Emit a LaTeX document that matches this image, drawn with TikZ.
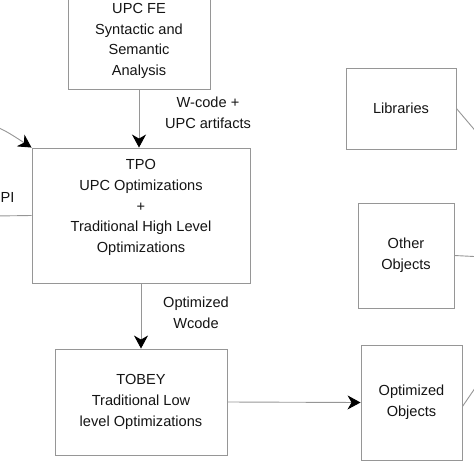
\documentclass[tikz,border=0pt]{standalone}
\usepackage{fontspec}
\setmainfont{Liberation Sans}
\usetikzlibrary{arrows.meta}
\definecolor{linegray}{RGB}{150,150,150}
\definecolor{txtgray}{RGB}{20,20,20}
\tikzset{
  box/.style={draw=linegray, line width=0.9pt, inner sep=0pt, text=txtgray, align=center},
  txt/.style={inner sep=0pt, text=txtgray, align=center},
  conn/.style={draw=linegray, line width=0.9pt},
  arr/.style={conn, -{Stealth[length=13pt, width=14pt, inset=4pt, color=black]}}
}
\begin{document}
\begin{tikzpicture}[x=1pt, y=-1pt, font=\fontsize{14.6}{20.8}\selectfont]
\useasboundingbox (0,0) rectangle (474,474);
\clip (0,0) rectangle (474,474);
% boxes
\node[box, minimum width=142pt, minimum height=96pt] (fe) at (139,41) {UPC FE\\Syntactic and\\Semantic\\Analysis};
\node[box, minimum width=218pt, minimum height=135pt] (tpo) at (141,215.5) {};
\node[txt] (tpotxt) at (141,207.5) {TPO\\UPC Optimizations\\+\\Traditional High Level\\Optimizations};
\node[box, minimum width=172pt, minimum height=106pt] (tobey) at (141,402) {TOBEY\\Traditional Low\\level Optimizations};
\node[box, minimum width=110pt, minimum height=81pt] (lib) at (401,108.5) {Libraries};
\node[box, minimum width=96pt, minimum height=105pt] (oth) at (406,255.5) {Other\\Objects};
\node[box, minimum width=101pt, minimum height=115pt] (oo) at (411.5,402.5) {Optimized\\Objects};
% labels
\node[txt] (lblw) at (208,113) {W-code +\\UPC artifacts};
\node[txt] (lblo) at (196,312.5) {Optimized\\Wcode};
\node[txt, anchor=west] (lblpi) at (0.5,197) {PI};
% free ends
\coordinate (lstart) at (-12,123);
\coordinate (lwest) at (-5,216);
\coordinate (rlib) at (484,141);
\coordinate (roth) at (484,257);
\coordinate (roo) at (484,375);
% connectors
\draw[arr] (fe.south) -- (fe.south |- tpo.north);
\draw[arr] (tobey.north |- tpo.south) -- (tobey.north);
\draw[arr] (tobey.east) -- (oo.west);
\draw[arr] (lstart) .. controls (6,131) .. (tpo.north west);
\draw[conn] (lwest) -- (tpo.west);
\draw[conn] (lib.east) -- (rlib);
\draw[conn] (oth.east) -- (roth);
\draw[conn] ([yshift=-4pt]oo.east) -- (roo);
\end{tikzpicture}
\end{document}
